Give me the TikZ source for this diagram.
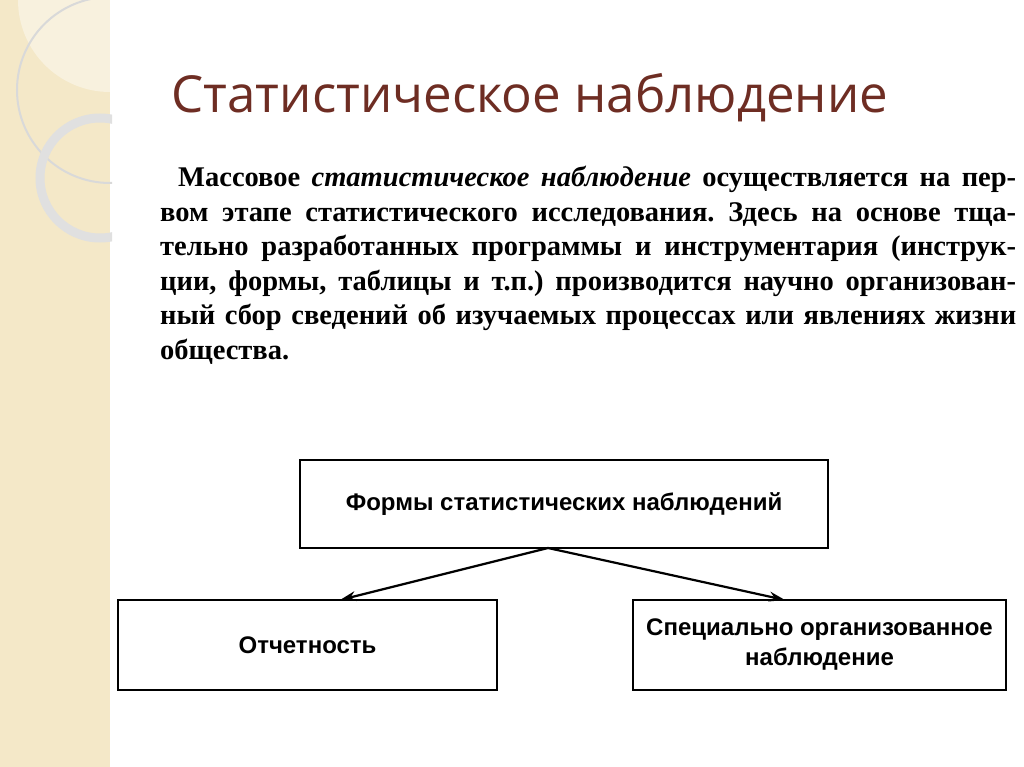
\documentclass[tikz,border=0pt]{standalone}
\usepackage{fontspec}
\setmainfont{Liberation Serif}
\newfontfamily\boxfont{Liberation Sans}
\newfontfamily\titlefont{Open Sans}
\usetikzlibrary{arrows.meta}
\definecolor{beige}{RGB}{244,232,200}
\definecolor{titlec}{RGB}{110,45,35}
\tikzset{box/.style={draw,line width=2.5pt,font=\boxfont\bfseries\fontsize{24pt}{30pt}\selectfont,align=center},
arr/.style={line width=2.2pt,-{Stealth[length=16pt,width=10pt]}}}
\begin{document}
\begin{tikzpicture}[x=1pt,y=-1pt]
\useasboundingbox (0,0) rectangle (1024,767);
\fill[white] (0,0) rectangle (1024,767);
\fill[beige] (0,0) rectangle (110,767);
\begin{scope}
\clip (0,0) rectangle (112,767);
\fill[white,opacity=0.4] (110,0) circle (92);
\draw[white!85!black,line width=2pt] (110,90) circle (93);
\draw[white!88!black,line width=9pt] (100,178) circle (60);
\end{scope}
\node[anchor=west,text=titlec,font=\titlefont\fontsize{51pt}{58pt}\selectfont] (title) at (168,98) {Статистическое наблюдение};
\node[anchor=north west,inner sep=0pt] (para) at (160,166) {\parbox{856pt}{\frenchspacing\fontsize{28.5pt}{34.5pt}\selectfont\bfseries
\hspace*{18pt}Массовое \textit{статистическое наблюдение} осуществляется на пер-\linebreak
вом этапе статистического исследования. Здесь на основе тща-\linebreak
тельно разработанных программы и инструментария (инструк-\linebreak
ции, формы, таблицы и т.п.) производится научно организован-\linebreak
ный сбор сведений об изучаемых процессах или явлениях жизни\linebreak
общества.}};
\node[box,minimum width=528pt,minimum height=88pt] (top) at (564,504) {Формы статистических наблюдений};
\node[box,minimum width=379pt,minimum height=90pt] (left) at (307.5,645) {Отчетность};
\node[box,minimum width=373pt,minimum height=90pt] (right) at (819.5,645) {Специально организованное\\наблюдение};
\coordinate (s) at (548,548);
\draw[arr] (s) -- (340,600);
\draw[arr] (s) -- (785,600);
\end{tikzpicture}
\end{document}
